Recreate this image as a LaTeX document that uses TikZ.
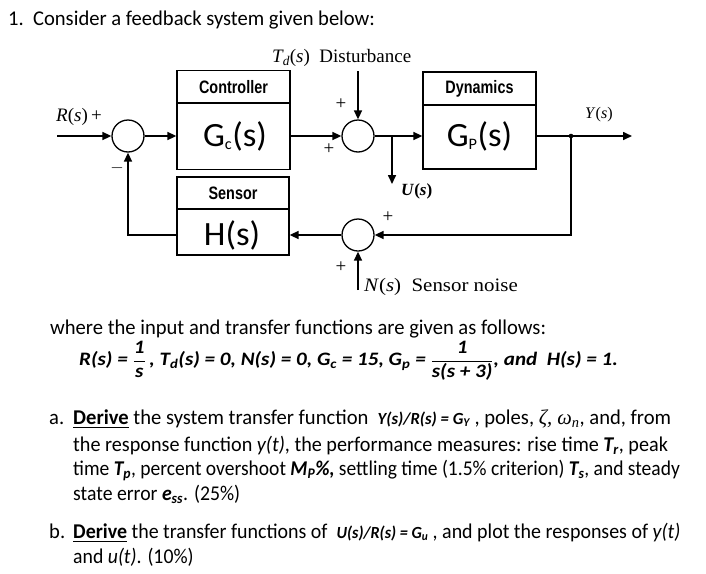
\documentclass[tikz,border=0pt]{standalone}
\usepackage{fontspec}
\usepackage{amsmath}
\setmainfont{Carlito}
\newfontfamily\tms{Liberation Serif}
\newfontfamily\arl{Liberation Sans}
\usetikzlibrary{arrows.meta}
\newcommand\sq[2][0.98]{\scalebox{#1}[1]{#2}}
\newcommand\bi[1]{{\fontsize{17}{18}\selectfont\bfseries\itshape #1}}
\newcommand\bv[1]{\textbf{\textit{#1}}}
\begin{document}
\begin{tikzpicture}[x=1pt,y=-1pt,
  blk/.style={draw,line width=1.3pt,inner sep=0pt},
  sum/.style={draw,circle,line width=1.3pt,minimum size=32pt,inner sep=0pt},
  ln/.style={line width=1.6pt},
  ar/.style={ln,-{Triangle[length=9pt,width=8pt]}},
  txt/.style={anchor=base west,inner sep=0pt,font=\fontsize{21}{24}\selectfont},
  lab/.style={inner sep=0pt,font=\tms\fontsize{19}{21}\selectfont},
  hdr/.style={inner sep=0pt,font=\arl\bfseries\fontsize{18}{20}\selectfont},
  big/.style={inner sep=0pt,font=\fontsize{34}{36}\selectfont}]
\useasboundingbox (0,0) rectangle (706,573);
\fill[white] (0,0) rectangle (706,573);
% header
\node[txt] (h) at (8,25) {\sq{1.\ \ Consider a feedback system given below:}};
% boxes
\node[blk,minimum width=113pt,minimum height=99pt] (gc) at (233.5,120) {};
\draw[line width=1.3pt] (177,103) -- (290,103);
\node[hdr] (gct) at (233.5,87) {\scalebox{0.8}[1]{Controller}};
\node[big] (gcl) at (235,136) {\scalebox{1.02}[1]{G\textsubscript{\fontsize{16}{16}\selectfont c}(s)}};
\node[blk,minimum width=113pt,minimum height=97pt] (gp) at (479.5,120.5) {};
\draw[line width=1.3pt] (423,105) -- (536,105);
\node[hdr] (gpt) at (479.5,89) {\scalebox{0.8}[1]{Dynamics}};
\node[big] (gpl) at (479.5,136) {\scalebox{1.02}[1]{G\textsubscript{\fontsize{16}{16}\selectfont P}(s)}};
\node[blk,minimum width=112pt,minimum height=78pt] (hs) at (233,216) {};
\draw[line width=1.3pt] (177,209) -- (289,209);
\node[hdr] (hst) at (233,193) {\scalebox{0.8}[1]{Sensor}};
\node[big] (hsl) at (232,235) {\scalebox{1.02}[1]{H(s)}};
% summers
\node[sum] (s1) at (128,136) {};
\node[sum] (s2) at (358,136) {};
\node[sum] (s3) at (358,235) {};
\coordinate (in) at (57,136);
\coordinate (br) at (571,136);
\coordinate (out) at (632,136);
\coordinate (ub) at (392,136);
\coordinate (ue) at (392,184);
\coordinate (td) at (358,71);
\coordinate (nz) at (358,290);
\draw[ar] (in) -- (s1);
\draw[ar] (s1) -- (gc.west|-s1);
\draw[ar] (gc.east|-s2) -- (s2);
\draw[ar] (s2) -- (gp.west|-s2);
\draw[ar] (gp.east|-br) -- (out);
\fill (br) circle (2.3pt);
\draw[ar] (br) |- (s3);
\draw[ar] (s3) -- (hs.east|-s3);
\draw[ar] (hs.west|-s3) -| (s1);
\draw[ar] (ub) -- (ue);
\draw[ar] (td) -- (s2);
\draw[ar] (nz) -- (s3);
% labels
\node[lab,anchor=west] (rl) at (56,117) {\textit{R}(\textit{s})\,+};
\node[lab,anchor=west] (yl) at (585,115) {\scalebox{0.85}{\textit{Y}(\textit{s})}};
\node[lab,anchor=west] (ul) at (401,191) {\scalebox{0.9}{\textbf{\textit{U}(\textit{s})}}};
\node[lab,anchor=west] (tl) at (272,58) {\textit{T\textsubscript{d}}(\textit{s})\ \ Disturbance};
\node[lab,anchor=west] (nl) at (364,287) {\scalebox{1.1}[1]{\textit{N}(\textit{s})\ \ Sensor noise}};
\node[lab] (m1) at (117,168) {$-$};
\node[lab] (p1) at (341,104) {+};
\node[lab] (p2) at (329,149) {+};
\node[lab] (p3) at (388,217) {+};
\node[lab] (p4) at (341,267) {+};
% text
\node[txt] (w) at (50,334) {\sq{where the input and transfer functions are given as follows:}};
\node[txt,anchor=west] (f) at (79,361) {\scalebox{1.11}[1]{\fontsize{19}{21}\selectfont\bfseries\itshape R(s) = $\dfrac{\text{1}}{\text{s}}$\,, T\textsubscript{d}(s) = 0,\ N(s) = 0, G\textsubscript{c} = 15, G\textsubscript{p} = $\dfrac{\text{1}}{\text{s(s + 3)}}$,\ and\ \ H(s) = 1.}};
\node[txt] (a) at (49,424) {\sq{a.}};
\node[txt] (a1) at (73,424) {\sq[0.98]{\underline{\textbf{Derive}} the system transfer function \ \bi{Y(s)/R(s) = G\textsubscript{Y}} , poles, {\tms\itshape ζ, ω\textsubscript{n}}, and, from}};
\node[txt] (a2) at (73,451) {\sq[0.96]{the response function \textit{y(t)}, the performance measures: rise time \bv{T\textsubscript{r}}, peak}};
\node[txt] (a3) at (73,475) {\sq[0.93]{time \bv{T\textsubscript{p}}, percent overshoot \bv{M\textsubscript{P}\%,} settling time (1.5\% criterion) \bv{T\textsubscript{s}}, and steady}};
\node[txt] (a4) at (73,500) {\sq[0.94]{state error \bv{e\textsubscript{ss}}. (25\%)}};
\node[txt] (b) at (49,538) {\sq{b.}};
\node[txt] (b1) at (73,538) {\sq[0.95]{\underline{\textbf{Derive}} the transfer functions of \ \bi{U(s)/R(s) = G\textsubscript{u}} , and plot the responses of \textit{y(t)}}};
\node[txt] (b2) at (73,563) {\sq[0.94]{and \textit{u(t)}. (10\%)}};
\end{tikzpicture}
\end{document}
